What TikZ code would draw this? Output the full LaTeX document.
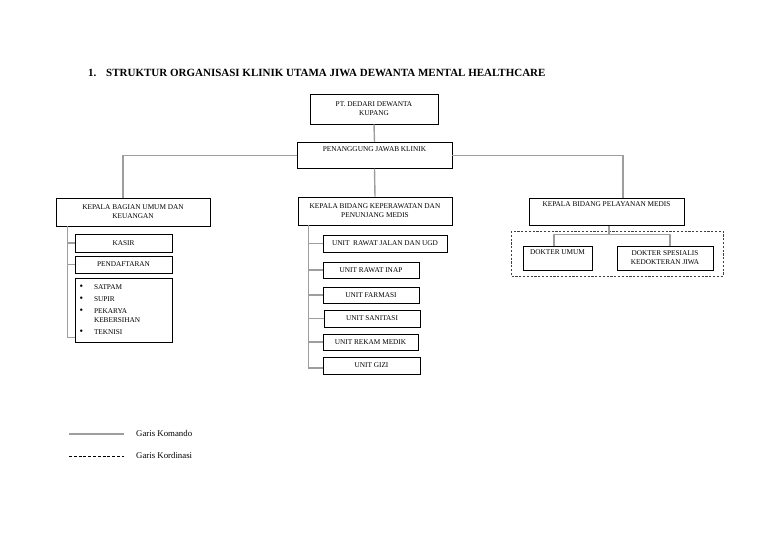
\documentclass[tikz,border=0pt]{standalone}
\usepackage{fontspec}
\setmainfont{Liberation Serif}
\usetikzlibrary{positioning}
\definecolor{orgline}{RGB}{158,158,158}
\newcommand\orgfont{\fontsize{7.3}{9}\selectfont}
\newcommand\orgbullet{{\fontsize{10}{9}\selectfont\textbullet}}

\tikzset{
  orgbox/.style={draw=black, line width=0.7pt, inner sep=0pt, align=center, font=\orgfont},
  komando/.style={draw=orgline, line width=1.4pt},
  kordinasi/.style={draw=black!75, dash pattern=on 2.2pt off 1.6pt, line width=0.7pt}
}

\begin{document}
\begin{tikzpicture}[x=1pt,y=-1pt]
  \useasboundingbox (0,0) rectangle (768,543);
  % title
  \node[anchor=base west, font=\fontsize{11}{13}\selectfont\bfseries, inner sep=0pt] (no) at (88,77) {1.};
  \node[anchor=base west, font=\fontsize{11}{13}\selectfont\bfseries, inner sep=0pt] (title) at (106,77)
    {STRUKTUR ORGANISASI KLINIK UTAMA JIWA DEWANTA MENTAL HEALTHCARE};

  % top levels
  \node[orgbox, minimum width=128pt, minimum height=30pt] (pt) at (374,109) {PT. DEDARI DEWANTA\\KUPANG};
  \node[orgbox, anchor=north, minimum width=155pt, text height=9pt, text depth=17pt] (pj) at (374.5,142) {PENANGGUNG JAWAB KLINIK};

  \node[orgbox, minimum width=154pt, minimum height=28pt] (kbu) at (133,212) {KEPALA BAGIAN UMUM DAN\\KEUANGAN};
  \node[orgbox, minimum width=154pt, minimum height=28pt] (kbk) at (375,211) {KEPALA BIDANG KEPERAWATAN DAN\\PENUNJANG MEDIS};
  \node[orgbox, anchor=north, minimum width=155pt, text height=8.5pt, text depth=18.5pt] (kbp) at (606.5,198) {KEPALA BIDANG PELAYANAN MEDIS};

  % bagian umum
  \node[orgbox, minimum width=97pt, minimum height=18pt] (kasir) at (123.5,243) {KASIR};
  \node[orgbox, minimum width=97pt, minimum height=17pt] (daftar) at (123.5,264.5) {PENDAFTARAN};
  \node[orgbox, minimum width=97pt, minimum height=64pt, text width=88pt, inner xsep=4.5pt, align=left] (umumlist) at (123.5,310)
    {\begin{tabular}{@{}l@{\hspace{11pt}}l@{}}
      \orgbullet & SATPAM\\[3.2pt]
      \orgbullet & SUPIR\\[3.2pt]
      \orgbullet & PEKARYA\\
                 & KEBERSIHAN\\[3.2pt]
      \orgbullet & TEKNISI
    \end{tabular}};

  % bidang keperawatan
  \node[orgbox, minimum width=124pt, minimum height=17pt] (ugd) at (385,243.5) {UNIT\ \ RAWAT JALAN DAN UGD};
  \node[orgbox, minimum width=96pt, minimum height=16pt] (inap) at (371,270) {UNIT RAWAT INAP};
  \node[orgbox, minimum width=96pt, minimum height=16pt] (farmasi) at (371,295) {UNIT FARMASI};
  \node[orgbox, minimum width=96pt, minimum height=17pt] (sanitasi) at (372,318.5) {UNIT SANITASI};
  \node[orgbox, minimum width=95pt, minimum height=16pt] (rekam) at (370.5,342) {UNIT REKAM MEDIK};
  \node[orgbox, minimum width=97pt, minimum height=17pt] (gizi) at (371.5,365.5) {UNIT GIZI};

  % bidang pelayanan
  \node[orgbox, anchor=north, minimum width=69pt, text height=8.5pt, text depth=15.5pt] (dumum) at (557.5,246) {DOKTER UMUM};
  \node[orgbox, minimum width=96pt, minimum height=24pt] (dspes) at (665,258) {DOKTER SPESIALIS\\KEDOKTERAN JIWA};
  \draw[kordinasi] (511,231) rectangle (723,276);

  % garis komando
  \coordinate (kbutop) at ([xshift=-10pt]kbu.north);
  \coordinate (kbptop) at ([xshift=16.5pt]kbp.north);
  \draw[komando] (pt.south) -- (pj.north);
  \draw[komando] (pj.west) -| (kbutop);
  \draw[komando] (pj.east) -| (kbptop);
  \draw[komando] (pj.south) -- (kbk.north);

  \coordinate (utrunk) at ([xshift=12pt]kbu.south west);
  \draw[komando] (utrunk) |- ([yshift=5pt]umumlist.south west);
  \foreach \b in {kasir,daftar}
    \draw[komando] (utrunk |- \b.west) -- (\b.west);

  \coordinate (ktrunk) at ([xshift=11pt]kbk.south west);
  \draw[komando] (ktrunk) |- ([yshift=-2.5pt]gizi.west);
  \foreach \u in {ugd,inap,farmasi,sanitasi,rekam}
    \draw[komando] (ktrunk |- \u.west) -- (\u.west);

  \coordinate (dbranch) at ([xshift=2.5pt,yshift=-9pt]kbp.south);
  \draw[komando] ([xshift=2.5pt]kbp.south) -- (dbranch);
  \draw[komando] ([xshift=-3.5pt]dumum.north) |- (dbranch) -| ([xshift=5pt]dspes.north);

  % legend
  \coordinate (kmA) at (69,434);
  \coordinate (kmB) at (124,434);
  \coordinate (koA) at (69,456);
  \coordinate (koB) at (124,456);
  \draw[komando, line width=1.2pt] (kmA) -- (kmB);
  \draw[draw=black, dash pattern=on 3pt off 1.8pt, line width=0.5pt] (koA) -- (koB);
  \node[anchor=west, font=\fontsize{8.8}{10}\selectfont, inner sep=0pt] (kmtext) at (136,433) {Garis Komando};
  \node[anchor=west, font=\fontsize{8.8}{10}\selectfont, inner sep=0pt] (kotext) at (136,455) {Garis Kordinasi};
\end{tikzpicture}
\end{document}
